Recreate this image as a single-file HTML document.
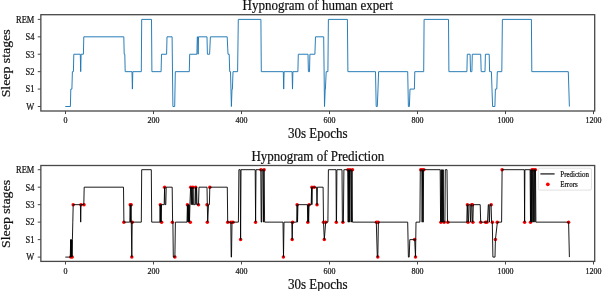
<!DOCTYPE html>
<html lang="en"><head><meta charset="utf-8"><title>Hypnogram</title>
<style>html,body{margin:0;padding:0;background:#fff;}svg{display:block;}text{stroke:#111;stroke-width:0.2px;}</style>
</head><body>
<svg width="602" height="291" viewBox="0 0 602 291" font-family='"Liberation Serif", serif' fill="#111">
<rect width="602" height="291" fill="#fff"/>
<rect x="40.85" y="14.7" width="553.85" height="96.30" fill="#fff" stroke="#484848" stroke-width="1.3"/>
<line x1="37.75" x2="40.85" y1="106.50" y2="106.50" stroke="#484848" stroke-width="1.0"/>
<text transform="translate(34.35,109.85) scale(1,1.1)" font-size="8.45" text-anchor="end">W</text>
<line x1="37.75" x2="40.85" y1="89.08" y2="89.08" stroke="#484848" stroke-width="1.0"/>
<text transform="translate(34.35,92.43) scale(1,1.1)" font-size="8.45" text-anchor="end">S1</text>
<line x1="37.75" x2="40.85" y1="71.66" y2="71.66" stroke="#484848" stroke-width="1.0"/>
<text transform="translate(34.35,75.01) scale(1,1.1)" font-size="8.45" text-anchor="end">S2</text>
<line x1="37.75" x2="40.85" y1="54.24" y2="54.24" stroke="#484848" stroke-width="1.0"/>
<text transform="translate(34.35,57.59) scale(1,1.1)" font-size="8.45" text-anchor="end">S3</text>
<line x1="37.75" x2="40.85" y1="36.82" y2="36.82" stroke="#484848" stroke-width="1.0"/>
<text transform="translate(34.35,40.17) scale(1,1.1)" font-size="8.45" text-anchor="end">S4</text>
<line x1="37.75" x2="40.85" y1="19.40" y2="19.40" stroke="#484848" stroke-width="1.0"/>
<text transform="translate(34.35,22.75) scale(1,1.1)" font-size="8.45" text-anchor="end">REM</text>
<line x1="65.50" x2="65.50" y1="111.0" y2="114.10" stroke="#484848" stroke-width="1.0"/>
<text transform="translate(65.50,123.40) scale(1,1.1)" font-size="8.0" text-anchor="middle">0</text>
<line x1="153.50" x2="153.50" y1="111.0" y2="114.10" stroke="#484848" stroke-width="1.0"/>
<text transform="translate(153.50,123.40) scale(1,1.1)" font-size="8.0" text-anchor="middle">200</text>
<line x1="241.50" x2="241.50" y1="111.0" y2="114.10" stroke="#484848" stroke-width="1.0"/>
<text transform="translate(241.50,123.40) scale(1,1.1)" font-size="8.0" text-anchor="middle">400</text>
<line x1="329.50" x2="329.50" y1="111.0" y2="114.10" stroke="#484848" stroke-width="1.0"/>
<text transform="translate(329.50,123.40) scale(1,1.1)" font-size="8.0" text-anchor="middle">600</text>
<line x1="417.50" x2="417.50" y1="111.0" y2="114.10" stroke="#484848" stroke-width="1.0"/>
<text transform="translate(417.50,123.40) scale(1,1.1)" font-size="8.0" text-anchor="middle">800</text>
<line x1="505.50" x2="505.50" y1="111.0" y2="114.10" stroke="#484848" stroke-width="1.0"/>
<text transform="translate(505.50,123.40) scale(1,1.1)" font-size="8.0" text-anchor="middle">1000</text>
<line x1="593.50" x2="593.50" y1="111.0" y2="114.10" stroke="#484848" stroke-width="1.0"/>
<text transform="translate(593.50,123.40) scale(1,1.1)" font-size="8.0" text-anchor="middle">1200</text>
<text transform="translate(317.78,10.00) scale(1,1.1)" font-size="13" text-anchor="middle">Hypnogram of human expert</text>
<text transform="translate(317.78,137.90) scale(1,1.1)" font-size="13" text-anchor="middle">30s Epochs</text>
<text transform="translate(9.7,63.35) rotate(-90) scale(1.125,1)" font-size="12.3" text-anchor="middle">Sleep stages</text>
<path d="M65.30,106.50 L70.40,106.50 L70.80,89.08 L71.90,89.08 L72.40,71.66 L73.40,71.66 L73.80,54.24 L80.30,54.24 L80.70,71.66 L81.10,54.24 L83.40,54.24 L83.80,36.82 L123.80,36.82 L124.20,54.24 L124.80,54.24 L125.20,71.66 L132.00,71.66 L132.40,89.08 L132.80,71.66 L141.30,71.66 L141.70,19.40 L151.50,19.40 L151.90,71.66 L161.10,71.66 L161.50,54.24 L166.60,54.24 L167.00,36.82 L172.10,36.82 L172.90,106.50 L174.70,106.50 L175.30,71.66 L189.30,71.66 L189.70,54.24 L196.90,54.24 L197.30,36.82 L197.70,36.82 L198.10,54.24 L198.50,36.82 L207.00,36.82 L207.40,54.24 L209.60,54.24 L210.40,36.82 L227.20,36.82 L228.00,54.24 L229.20,54.24 L229.70,71.66 L230.50,71.66 L231.40,106.50 L232.00,89.08 L232.40,89.08 L233.00,71.66 L237.60,71.66 L238.30,19.40 L260.90,19.40 L261.30,71.66 L283.30,71.66 L283.70,89.08 L284.10,71.66 L292.10,71.66 L292.50,89.08 L292.90,71.66 L297.90,71.66 L298.30,54.24 L308.00,54.24 L308.40,71.66 L309.50,71.66 L309.90,54.24 L314.90,54.24 L315.50,36.82 L323.70,36.82 L324.50,106.50 L325.20,89.08 L325.40,89.08 L326.20,71.66 L327.90,71.66 L328.40,19.40 L347.40,19.40 L347.90,71.66 L375.50,71.66 L376.20,106.50 L377.30,106.50 L378.00,89.08 L378.60,71.66 L407.70,71.66 L408.40,106.50 L409.40,106.50 L410.00,89.08 L414.40,89.08 L414.80,71.66 L423.70,71.66 L424.10,19.40 L448.50,19.40 L448.90,71.66 L466.90,71.66 L467.30,54.24 L470.10,54.24 L470.50,71.66 L471.90,71.66 L472.30,54.24 L480.70,54.24 L481.20,71.66 L485.00,71.66 L485.40,54.24 L489.20,54.24 L489.60,71.66 L491.40,71.66 L492.60,106.50 L494.90,106.50 L495.40,89.08 L496.80,89.08 L497.30,71.66 L501.80,71.66 L502.40,19.40 L531.40,19.40 L531.80,71.66 L568.30,71.66 L569.40,106.50" fill="none" stroke="#1f77b4" stroke-width="0.95" stroke-linejoin="round"/>
<rect x="40.85" y="165.5" width="553.85" height="95.90" fill="#fff" stroke="#484848" stroke-width="1.3"/>
<line x1="37.75" x2="40.85" y1="257.10" y2="257.10" stroke="#484848" stroke-width="1.0"/>
<text transform="translate(34.35,260.45) scale(1,1.1)" font-size="8.45" text-anchor="end">W</text>
<line x1="37.75" x2="40.85" y1="239.62" y2="239.62" stroke="#484848" stroke-width="1.0"/>
<text transform="translate(34.35,242.97) scale(1,1.1)" font-size="8.45" text-anchor="end">S1</text>
<line x1="37.75" x2="40.85" y1="222.14" y2="222.14" stroke="#484848" stroke-width="1.0"/>
<text transform="translate(34.35,225.49) scale(1,1.1)" font-size="8.45" text-anchor="end">S2</text>
<line x1="37.75" x2="40.85" y1="204.66" y2="204.66" stroke="#484848" stroke-width="1.0"/>
<text transform="translate(34.35,208.01) scale(1,1.1)" font-size="8.45" text-anchor="end">S3</text>
<line x1="37.75" x2="40.85" y1="187.18" y2="187.18" stroke="#484848" stroke-width="1.0"/>
<text transform="translate(34.35,190.53) scale(1,1.1)" font-size="8.45" text-anchor="end">S4</text>
<line x1="37.75" x2="40.85" y1="169.70" y2="169.70" stroke="#484848" stroke-width="1.0"/>
<text transform="translate(34.35,173.05) scale(1,1.1)" font-size="8.45" text-anchor="end">REM</text>
<line x1="65.50" x2="65.50" y1="261.4" y2="264.50" stroke="#484848" stroke-width="1.0"/>
<text transform="translate(65.50,273.80) scale(1,1.1)" font-size="8.0" text-anchor="middle">0</text>
<line x1="153.50" x2="153.50" y1="261.4" y2="264.50" stroke="#484848" stroke-width="1.0"/>
<text transform="translate(153.50,273.80) scale(1,1.1)" font-size="8.0" text-anchor="middle">200</text>
<line x1="241.50" x2="241.50" y1="261.4" y2="264.50" stroke="#484848" stroke-width="1.0"/>
<text transform="translate(241.50,273.80) scale(1,1.1)" font-size="8.0" text-anchor="middle">400</text>
<line x1="329.50" x2="329.50" y1="261.4" y2="264.50" stroke="#484848" stroke-width="1.0"/>
<text transform="translate(329.50,273.80) scale(1,1.1)" font-size="8.0" text-anchor="middle">600</text>
<line x1="417.50" x2="417.50" y1="261.4" y2="264.50" stroke="#484848" stroke-width="1.0"/>
<text transform="translate(417.50,273.80) scale(1,1.1)" font-size="8.0" text-anchor="middle">800</text>
<line x1="505.50" x2="505.50" y1="261.4" y2="264.50" stroke="#484848" stroke-width="1.0"/>
<text transform="translate(505.50,273.80) scale(1,1.1)" font-size="8.0" text-anchor="middle">1000</text>
<line x1="593.50" x2="593.50" y1="261.4" y2="264.50" stroke="#484848" stroke-width="1.0"/>
<text transform="translate(593.50,273.80) scale(1,1.1)" font-size="8.0" text-anchor="middle">1200</text>
<text transform="translate(317.78,160.80) scale(1,1.1)" font-size="13" text-anchor="middle">Hypnogram of Prediction</text>
<text transform="translate(317.78,288.70) scale(1,1.1)" font-size="13" text-anchor="middle">30s Epochs</text>
<text transform="translate(9.7,213.95) rotate(-90) scale(1.125,1)" font-size="12.3" text-anchor="middle">Sleep stages</text>
<g fill="#f00">
<circle cx="70.8" cy="257.10" r="1.75"/>
<circle cx="72.2" cy="257.10" r="1.75"/>
<circle cx="73.2" cy="204.66" r="1.75"/>
<circle cx="81.0" cy="204.66" r="1.75"/>
<circle cx="84.0" cy="204.66" r="1.75"/>
<circle cx="123.9" cy="222.14" r="1.75"/>
<circle cx="130.2" cy="204.66" r="1.75"/>
<circle cx="131.2" cy="204.66" r="1.75"/>
<circle cx="131.8" cy="257.10" r="1.75"/>
<circle cx="132.2" cy="222.14" r="1.75"/>
<circle cx="160.3" cy="204.66" r="1.75"/>
<circle cx="161.6" cy="222.14" r="1.75"/>
<circle cx="164.6" cy="187.18" r="1.75"/>
<circle cx="172.4" cy="222.14" r="1.75"/>
<circle cx="174.9" cy="257.10" r="1.75"/>
<circle cx="187.4" cy="204.66" r="1.75"/>
<circle cx="190.3" cy="222.14" r="1.75"/>
<circle cx="190.7" cy="187.18" r="1.75"/>
<circle cx="192.8" cy="187.18" r="1.75"/>
<circle cx="195.6" cy="187.18" r="1.75"/>
<circle cx="198.5" cy="204.66" r="1.75"/>
<circle cx="207.0" cy="204.66" r="1.75"/>
<circle cx="207.3" cy="222.14" r="1.75"/>
<circle cx="209.8" cy="187.18" r="1.75"/>
<circle cx="227.7" cy="222.14" r="1.75"/>
<circle cx="231.0" cy="222.14" r="1.75"/>
<circle cx="233.0" cy="222.14" r="1.75"/>
<circle cx="240.6" cy="239.62" r="1.75"/>
<circle cx="255.6" cy="222.14" r="1.75"/>
<circle cx="261.0" cy="169.70" r="1.75"/>
<circle cx="264.1" cy="169.70" r="1.75"/>
<circle cx="283.4" cy="257.10" r="1.75"/>
<circle cx="292.2" cy="239.62" r="1.75"/>
<circle cx="292.6" cy="222.14" r="1.75"/>
<circle cx="297.1" cy="204.66" r="1.75"/>
<circle cx="307.8" cy="222.14" r="1.75"/>
<circle cx="309.1" cy="204.66" r="1.75"/>
<circle cx="311.9" cy="187.18" r="1.75"/>
<circle cx="314.2" cy="187.18" r="1.75"/>
<circle cx="317.0" cy="204.66" r="1.75"/>
<circle cx="323.5" cy="222.14" r="1.75"/>
<circle cx="324.3" cy="239.62" r="1.75"/>
<circle cx="325.7" cy="222.14" r="1.75"/>
<circle cx="336.3" cy="222.14" r="1.75"/>
<circle cx="342.9" cy="222.14" r="1.75"/>
<circle cx="348.0" cy="169.70" r="1.75"/>
<circle cx="350.0" cy="169.70" r="1.75"/>
<circle cx="352.5" cy="169.70" r="1.75"/>
<circle cx="376.5" cy="222.14" r="1.75"/>
<circle cx="377.8" cy="257.10" r="1.75"/>
<circle cx="378.1" cy="222.14" r="1.75"/>
<circle cx="414.6" cy="239.62" r="1.75"/>
<circle cx="415.5" cy="257.10" r="1.75"/>
<circle cx="420.8" cy="169.70" r="1.75"/>
<circle cx="422.3" cy="169.70" r="1.75"/>
<circle cx="423.8" cy="169.70" r="1.75"/>
<circle cx="440.9" cy="222.14" r="1.75"/>
<circle cx="444.1" cy="222.14" r="1.75"/>
<circle cx="447.8" cy="222.14" r="1.75"/>
<circle cx="467.4" cy="204.66" r="1.75"/>
<circle cx="468.0" cy="222.14" r="1.75"/>
<circle cx="471.7" cy="204.66" r="1.75"/>
<circle cx="472.4" cy="204.66" r="1.75"/>
<circle cx="472.9" cy="222.14" r="1.75"/>
<circle cx="480.7" cy="222.14" r="1.75"/>
<circle cx="485.6" cy="222.14" r="1.75"/>
<circle cx="486.9" cy="222.14" r="1.75"/>
<circle cx="491.2" cy="204.66" r="1.75"/>
<circle cx="492.4" cy="222.14" r="1.75"/>
<circle cx="495.4" cy="239.62" r="1.75"/>
<circle cx="497.2" cy="222.14" r="1.75"/>
<circle cx="502.1" cy="169.70" r="1.75"/>
<circle cx="524.6" cy="222.14" r="1.75"/>
<circle cx="530.5" cy="222.14" r="1.75"/>
<circle cx="532.0" cy="169.70" r="1.75"/>
<circle cx="533.6" cy="169.70" r="1.75"/>
<circle cx="535.4" cy="169.70" r="1.75"/>
<circle cx="568.6" cy="222.14" r="1.75"/>
</g>
<path d="M65.30,257.10 L70.30,257.10 L70.60,239.62 L70.90,257.10 L71.20,239.62 L71.50,257.10 L71.80,239.62 L72.10,257.10 L72.40,239.62 L72.80,222.14 L73.20,204.66 L80.40,204.66 L80.70,222.14 L81.00,204.66 L83.80,204.66 L84.20,187.18 L123.50,187.18 L123.90,222.14 L129.80,222.14 L130.20,204.66 L130.62,222.14 L131.04,204.66 L131.80,257.10 L132.20,222.14 L141.30,222.14 L141.70,169.70 L151.30,169.70 L151.70,222.14 L159.90,222.14 L160.10,204.66 L160.45,222.14 L160.80,204.66 L161.15,222.14 L161.50,204.66 L161.90,204.66 L164.20,204.66 L164.60,187.18 L165.00,204.66 L165.80,204.66 L166.20,187.18 L172.20,187.18 L172.60,222.14 L172.90,222.14 L173.30,257.10 L174.90,257.10 L175.40,222.14 L187.00,222.14 L187.40,204.66 L187.82,222.14 L188.24,204.66 L188.66,222.14 L189.08,204.66 L189.50,222.14 L189.92,204.66 L190.60,187.18 L190.90,187.18 L191.30,204.66 L191.70,187.18 L192.00,187.18 L192.40,204.66 L192.60,204.66 L193.00,187.18 L193.40,204.66 L194.90,204.66 L195.30,187.18 L195.60,187.18 L196.00,204.66 L196.40,187.18 L196.60,187.18 L197.00,204.66 L198.00,204.66 L198.50,204.66 L199.00,187.18 L207.00,187.18 L207.30,204.66 L207.70,222.14 L208.50,204.66 L209.40,204.66 L209.80,187.18 L227.30,187.18 L227.70,222.14 L230.80,222.14 L231.20,257.10 L231.50,257.10 L232.00,222.14 L238.40,222.14 L238.90,169.70 L240.20,169.70 L240.60,239.62 L241.00,169.70 L255.20,169.70 L255.60,222.14 L256.00,169.70 L260.80,169.70 L261.20,222.14 L261.60,222.14 L262.00,169.70 L263.00,169.70 L263.40,222.14 L263.90,169.70 L264.10,169.70 L264.60,222.14 L283.00,222.14 L283.50,257.10 L284.00,222.14 L291.80,222.14 L292.20,239.62 L292.60,222.14 L296.70,222.14 L297.10,204.66 L297.52,222.14 L297.94,204.66 L298.30,204.66 L307.40,204.66 L307.80,222.14 L308.22,204.66 L308.64,222.14 L309.06,204.66 L309.10,204.66 L311.20,204.66 L311.60,187.18 L311.90,204.66 L312.30,187.18 L316.60,187.18 L317.00,204.66 L317.40,187.18 L323.10,187.18 L323.50,222.14 L324.30,239.62 L325.70,222.14 L327.90,222.14 L328.40,169.70 L336.00,169.70 L336.30,222.14 L336.50,222.14 L336.90,169.70 L342.00,169.70 L342.40,222.14 L343.40,222.14 L343.90,169.70 L347.70,169.70 L348.10,222.14 L348.30,222.14 L348.60,169.70 L349.02,222.14 L349.44,169.70 L349.86,222.14 L350.28,169.70 L350.80,169.70 L351.20,169.70 L351.60,222.14 L352.00,169.70 L352.40,222.14 L376.30,222.14 L377.30,257.10 L377.80,257.10 L378.40,222.14 L407.70,222.14 L408.40,257.10 L409.20,257.10 L409.80,239.62 L414.70,239.62 L415.50,257.10 L416.00,222.14 L419.90,222.14 L420.30,169.70 L421.80,169.70 L422.10,222.14 L422.20,222.14 L422.60,169.70 L422.70,169.70 L423.10,222.14 L423.20,222.14 L423.60,169.70 L440.20,169.70 L440.60,222.14 L440.80,222.14 L441.20,169.70 L441.30,169.70 L441.70,222.14 L441.80,222.14 L442.20,169.70 L442.30,169.70 L442.70,222.14 L442.80,222.14 L443.20,169.70 L443.60,222.14 L444.90,222.14 L445.30,169.70 L447.00,169.70 L447.50,222.14 L466.80,222.14 L467.20,204.66 L467.40,204.66 L467.90,222.14 L468.50,222.14 L468.90,204.66 L470.10,204.66 L470.50,222.14 L470.80,222.14 L471.20,204.66 L472.00,204.66 L472.40,222.14 L472.90,222.14 L473.30,204.66 L480.20,204.66 L480.70,222.14 L487.50,222.14 L488.30,204.66 L488.80,204.66 L489.20,222.14 L489.50,222.14 L489.90,204.66 L491.10,204.66 L491.60,222.14 L492.30,222.14 L492.90,257.10 L495.00,257.10 L495.40,239.62 L497.40,222.14 L501.60,222.14 L502.10,169.70 L524.30,169.70 L524.60,222.14 L524.90,169.70 L530.10,169.70 L530.50,222.14 L530.92,169.70 L531.34,222.14 L531.76,169.70 L532.18,222.14 L532.60,169.70 L533.00,169.70 L533.30,169.70 L533.70,222.14 L534.10,169.70 L534.50,169.70 L534.90,222.14 L535.30,169.70 L535.50,169.70 L535.90,222.14 L568.60,222.14 L569.40,257.10" fill="none" stroke="#000" stroke-width="0.9" stroke-linejoin="round"/>
<rect x="538.4" y="168.2" width="53.1" height="21.9" rx="1.5" fill="#fff" fill-opacity="0.8" stroke="#ccc" stroke-width="0.6"/>
<line x1="540.4" x2="554.6" y1="173.9" y2="173.9" stroke="#333" stroke-width="1.4"/>
<circle cx="547.8" cy="184.3" r="1.85" fill="#f00"/>
<text transform="translate(560.30,176.50) scale(1,1.1)" font-size="6.97" text-anchor="start">Prediction</text>
<text transform="translate(560.30,186.80) scale(1,1.1)" font-size="6.97" text-anchor="start">Errors</text>
</svg>
</body></html>
